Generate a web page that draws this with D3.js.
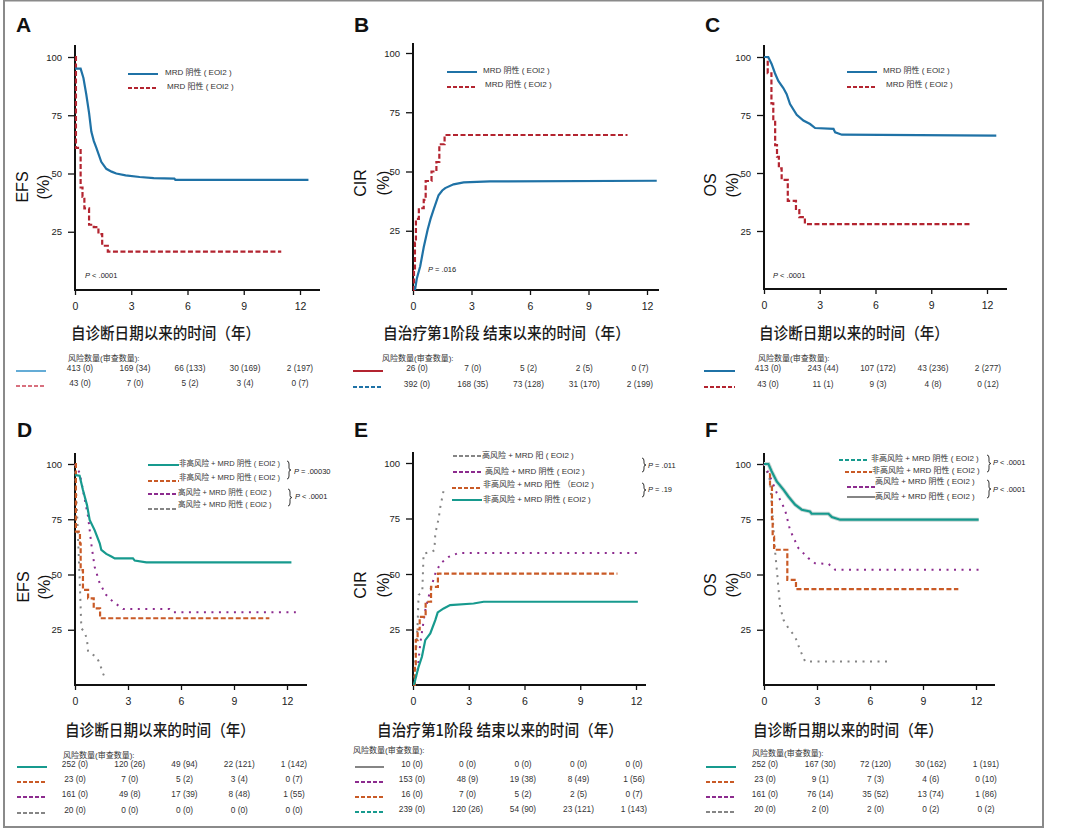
<!DOCTYPE html>
<html>
<head>
<meta charset="utf-8">
<script src="https://cdn.jsdelivr.net/npm/d3@7"></script>
<style>
  body { margin: 0; background: #fff; }
  svg { display: block; }
</style>
</head>
<body>
<script>
// ---- data ----
const xTicks = [0, 3, 6, 9, 12];
const yTicks = [25, 50, 75, 100];

// A: EFS by MRD
const aNeg = [[0,95],[0.3,95],[0.45,91],[0.6,84],[0.75,76],[0.87,68],[1.0,64],[1.14,61],[1.4,55],[1.67,52],[1.95,50.8],[2.2,50],[2.7,49.2],[3.45,48.5],[4.2,48],[5.3,47.8],[5.35,47.3],[12.45,47.3]];
const aPos = [[0,100],[0.05,61],[0.3,44],[0.4,40],[0.5,35],[0.75,28],[1.0,27],[1.25,24],[1.45,19],[1.75,16.5],[11.0,16.5]];
// B: CIR by MRD
const bNeg = [[0.1,0],[0.2,5],[0.37,10],[0.55,18],[0.75,25.4],[0.9,30],[1.06,34],[1.31,40],[1.5,42],[1.65,43],[2.08,44.6],[2.6,45.4],[3.95,45.8],[12.5,46.1]];
const bPos = [[0,0],[0.05,8],[0.1,20],[0.15,30],[0.3,34.5],[0.55,38],[0.65,46],[0.95,50],[1.2,54],[1.35,61.5],[1.62,65.4],[11.0,65.4]];
// C: OS by MRD
const cNeg = [[0,100],[0.23,100],[0.41,97],[0.59,93],[0.77,89.7],[1.04,86.6],[1.22,84],[1.4,79.7],[1.76,75.1],[2.12,72.6],[2.48,71.1],[2.75,69.4],[3.74,69],[3.83,67.5],[4.19,66.5],[12.5,66.1]];
const cPos = [[0,100],[0.15,100],[0.2,93],[0.4,80],[0.5,72],[0.6,62],[0.7,57],[0.8,52],[0.95,47],[1.28,38],[1.72,34],[1.9,31],[2.2,28],[11.07,28]];
// D: EFS by risk + MRD
const dTeal = [[0,95],[0.26,94.7],[0.45,88.2],[0.68,81.4],[0.83,74.7],[1.11,70.1],[1.4,64.1],[1.49,61.1],[1.77,59.3],[2.06,58.1],[2.25,57.3],[3.28,57.3],[3.38,56.3],[4.04,55.5],[12.25,55.5]];
const dOrange = [[0,100],[0.05,69.4],[0.28,64],[0.32,52],[0.45,43],[0.74,39.2],[1.06,34.7],[1.42,30.2],[11.0,30.2]];
const dPurple = [[0,100],[0.26,96],[0.45,88.2],[0.74,76.2],[0.92,64],[1.11,53.5],[1.4,46],[1.77,40.7],[2.15,37.7],[2.72,34.4],[5.36,34.4],[5.55,32.9],[12.5,32.9]];
const dGray = [[0,100],[0.11,79],[0.26,49],[0.36,25.6],[0.55,24],[0.68,20.4],[0.74,15],[1.21,12.8],[1.4,9.8],[1.58,5.3],[1.74,2.6]];
// E: CIR by risk + MRD
const eGray = [[0.05,0],[0.25,27.7],[0.3,40.5],[0.5,42],[0.57,59.2],[1.0,60],[1.15,60.7],[1.2,68.2],[1.38,75],[1.47,80.2],[1.65,87.7]];
const ePurple = [[0.05,0],[0.25,6.7],[0.39,18.7],[0.66,33.7],[0.93,42.7],[1.2,50.2],[1.47,54.7],[1.92,57.7],[2.45,59.5],[12.3,59.5]];
const eOrange = [[0,0],[0.1,8.2],[0.15,20.2],[0.25,25],[0.36,30.7],[0.68,37.5],[0.97,44.2],[1.34,50.2],[11.0,50.2]];
const eTeal = [[0.05,0],[0.3,8.2],[0.48,12.7],[0.66,20.2],[0.93,23.2],[1.2,29.2],[1.33,32.7],[1.65,34.5],[2.0,36],[3.26,36.7],[3.8,37.5],[12.1,37.5]];
// F: OS by risk + MRD
const fTeal = [[0,100],[0.25,100],[0.43,96.7],[0.72,92.1],[1.1,88.4],[1.38,85.3],[1.76,81.6],[2.14,79.3],[2.6,78.5],[2.7,77.5],[3.65,77.5],[3.84,76],[4.31,74.8],[12.15,74.8]];
const fOrange = [[0,100],[0.34,89.9],[0.45,75],[0.49,67.2],[0.57,61.2],[1.32,47.6],[1.81,43.4],[11.0,43.4]];
const fPurple = [[0,100],[0.34,94.4],[0.72,86.9],[1.19,79.3],[1.47,70.2],[1.95,61.9],[2.51,57.4],[2.89,55.1],[3.65,54.8],[4.03,52.1],[12.3,52.1]];
const fGray = [[0,100],[0.34,92.6],[0.62,61.2],[0.76,49.1],[0.91,35.5],[1.1,29.5],[1.38,25.7],[1.76,21.9],[2.04,15.9],[2.33,10.6],[7.15,10.6]];

// legend labels
const legendMRD = ["MRD 阴性 ( EOI2 )", "MRD 阳性 ( EOI2 )"];
const legendD = ["非高风险 + MRD 阴性 ( EOI2 )", "非高风险 + MRD 阳性 ( EOI2 )", "高风险 + MRD 阴性 ( EOI2 )", "高风险 + MRD 阳性 ( EOI2 )"];
const legendE = ["高风险 + MRD 阳 ( EOI2 )", "高风险 + MRD 阴性 ( EOI2 )", "非高风险 + MRD 阳性 （EOI2 )", "非高风险 + MRD 阴性 ( EOI2 )"];
const legendF = ["非高风险 + MRD 阴性 (  EOI2 )", "非高风险 + MRD 阳性 ( EOI2 )", "高风险 + MRD 阴性 ( EOI2 )", "高风险 + MRD 阳性  ( EOI2 )"];

const pA = "< .0001", pB = "= .016", pC = "< .0001";
const pD = ["= .00030", "< .0001"];
const pE = ["= .011", "= .19"];
const pF = ["< .0001", "< .0001"];

const titleDiag = "自诊断日期以来的时间（年）";
const titleCons = "自治疗第1阶段 结束以来的时间（年）";
const riskHeader = "风险数量(审查数量):";

const riskA = [["413 (0)","169 (34)","66 (133)","30 (169)","2 (197)"],["43 (0)","7 (0)","5 (2)","3 (4)","0 (7)"]];
const riskB = [["26 (0)","7 (0)","5 (2)","2 (5)","0 (7)"],["392 (0)","168 (35)","73 (128)","31 (170)","2 (199)"]];
const riskC = [["413 (0)","243 (44)","107 (172)","43 (236)","2 (277)"],["43 (0)","11 (1)","9 (3)","4 (8)","0 (12)"]];
const riskD = [["252 (0)","120 (26)","49 (94)","22 (121)","1 (142)"],["23 (0)","7 (0)","5 (2)","3 (4)","0 (7)"],["161 (0)","49 (8)","17 (39)","8 (48)","1 (55)"],["20 (0)","0 (0)","0 (0)","0 (0)","0 (0)"]];
const riskE = [["10 (0)","0 (0)","0 (0)","0 (0)","0 (0)"],["153 (0)","48 (9)","19 (38)","8 (49)","1 (56)"],["16 (0)","7 (0)","5 (2)","2 (5)","0 (7)"],["239 (0)","120 (26)","54 (90)","23 (121)","1 (143)"]];
const riskF = [["252 (0)","167 (30)","72 (120)","30 (162)","1 (191)"],["23 (0)","9 (1)","7 (3)","4 (6)","0 (10)"],["161 (0)","76 (14)","35 (52)","13 (74)","1 (86)"],["20 (0)","2 (0)","2 (0)","0 (2)","0 (2)"]];

// ---- styles ----
const sans = "'Liberation Sans', Arial, 'Noto Sans CJK SC', sans-serif";
const blue = "#1f72a6", red = "#b32430", teal = "#179a8e", orange = "#c95a26",
      purple = "#8c2b8e", gray = "#858585", ltBlue = "#64acd6", pink = "#d8707e";
const solid = null, dash = "5,2.5", dot = "2,5.5", rdash = "4,2";

const svg = d3.select("body").append("svg")
    .attr("width", 1080)
    .attr("height", 830);

// outer frame
svg.append("rect")
    .attr("x", 4).attr("y", 0.5)
    .attr("width", 1039).attr("height", 826.5)
    .style("fill", "none")
    .style("stroke", "#8a8a8a")
    .style("stroke-width", 2);

function pText(g, x, y, s, size) {
    const t = g.append("text").attr("x", x).attr("y", y + size * 0.35)
        .attr("font-family", sans).attr("font-size", size).attr("fill", "#222");
    t.append("tspan").attr("font-style", "italic").text("P");
    t.append("tspan").text(" " + s);
}

function brace(g, x, y1, y2) {
    const m = (y1 + y2) / 2;
    g.append("path")
        .attr("d", `M${x},${y1} q2,0 2,3 L${x + 2},${m - 2} q0,2 2,2 q-2,0 -2,2 L${x + 2},${y2 - 3} q0,3 -2,3`)
        .style("fill", "none").style("stroke", "#333").style("stroke-width", 1);
}

function drawPanel(p) {
    const g = svg.append("g");
    const x = d3.scaleLinear().domain([0, 12]).range([p.x0, p.x12]);
    const y = d3.scaleLinear().domain([0, 100]).range([p.y0, p.y100]);

    // panel letter
    g.append("text").attr("x", p.lx).attr("y", p.ly).text(p.letter)
        .attr("font-family", sans).attr("font-size", 21).attr("font-weight", "bold").attr("fill", "#111");

    // axes
    const ya = g.append("g").attr("transform", `translate(${p.x0},0)`)
        .call(d3.axisLeft(y).tickValues(yTicks).tickSize(7).tickPadding(6));
    const xa = g.append("g").attr("transform", `translate(0,${p.y0})`)
        .call(d3.axisBottom(x).tickValues(xTicks).tickSize(5).tickPadding(7.5));
    [ya, xa].forEach(function (a) {
        a.select(".domain").remove();
        a.selectAll("line").attr("stroke", "#111").attr("stroke-width", 1.3);
        a.selectAll("text").attr("font-family", sans).attr("fill", "#222");
    });
    ya.selectAll("text").attr("font-size", 9.5);
    xa.selectAll("text").attr("font-size", 10.5);

    g.append("line").attr("x1", p.x0).attr("x2", p.x0).attr("y1", p.yTop).attr("y2", p.y0 + 1)
        .style("stroke", "#111").style("stroke-width", 2);
    g.append("line").attr("x1", p.x0 - 1).attr("x2", p.xEnd).attr("y1", p.y0).attr("y2", p.y0)
        .style("stroke", "#111").style("stroke-width", 2);

    // y label
    g.append("text").attr("transform", `translate(${p.ylab[1]},${p.ylab[2]}) rotate(-90)`)
        .attr("text-anchor", "middle").attr("dominant-baseline", "central")
        .attr("font-family", sans).attr("font-size", 16).attr("fill", "#111").text(p.ylab[0]);
    g.append("text").attr("transform", `translate(${p.ylab[3]},${p.ylab[2]}) rotate(-90)`)
        .attr("text-anchor", "middle").attr("dominant-baseline", "central")
        .attr("font-family", sans).attr("font-size", 16).attr("fill", "#111").text("(%)");

    // x title
    g.append("text").attr("x", p.title[1]).attr("y", p.title[3] + 6)
        .attr("textLength", p.title[2] - p.title[1]).attr("lengthAdjust", "spacingAndGlyphs")
        .attr("font-family", "'Noto Sans CJK SC', sans-serif").attr("font-size", 16)
        .attr("font-weight", 500).attr("fill", "#1a1a1a")
        .text(p.title[0]);

    // curves
    p.series.forEach(function (s) {
        const line = d3.line()
            .x(d => x(d[0]))
            .y(d => y(d[1]))
            .curve(s.step ? d3.curveStepAfter : d3.curveLinear);
        if (s.halo) {
            g.append("path").attr("d", line(s.data)).style("fill", "none")
                .style("stroke", "#c9d6d4").style("stroke-width", 4);
        }
        g.append("path").attr("d", line(s.data))
            .style("fill", "none")
            .style("stroke", s.color)
            .style("stroke-width", s.w || 2)
            .style("stroke-dasharray", s.dash);
    });

    // legend
    const L = p.legend;
    L.labels.forEach(function (lab, i) {
        g.append("line")
            .attr("x1", L.x1[i]).attr("x2", L.x2[i]).attr("y1", L.ys[i]).attr("y2", L.ys[i])
            .style("stroke", L.styles[i][0]).style("stroke-width", 2)
            .style("stroke-dasharray", L.styles[i][1]);
        g.append("text").attr("x", L.tx[i]).attr("y", L.ty[i] + L.size * 0.36)
            .attr("font-family", sans).attr("font-size", L.size).attr("fill", "#333").text(lab);
    });

    // p values
    p.pvals.forEach(function (pv) {
        if (pv.b) brace(g, pv.b[0], pv.b[1], pv.b[2]);
        pText(g, pv.x, pv.y, pv.t, 7.5);
    });

    // risk table
    const R = p.risk;
    const cx = d3.scaleLinear().domain([0, 12]).range([R.c0, R.c12]);
    g.append("text").attr("x", R.hx).attr("y", R.hy + 3)
        .attr("font-family", sans).attr("font-size", 8).attr("fill", "#333").text(riskHeader);
    R.rows.forEach(function (row, i) {
        g.append("line")
            .attr("x1", R.lx[0]).attr("x2", R.lx[1]).attr("y1", R.ry[i] + 3).attr("y2", R.ry[i] + 3)
            .style("stroke", R.styles[i][0]).style("stroke-width", 2)
            .style("stroke-dasharray", R.styles[i][1]);
        g.selectAll(null).data(row).enter().append("text")
            .attr("x", (d, j) => cx(xTicks[j]))
            .attr("y", R.ry[i] + 3)
            .attr("text-anchor", "middle")
            .attr("font-family", sans).attr("font-size", 8.3).attr("fill", "#333")
            .text(d => d);
    });
}

const panels = [
    {
        letter: "A", lx: 16, ly: 32,
        x0: 75, x12: 300, y0: 290, y100: 57, yTop: 45, xEnd: 320,
        ylab: ["EFS", 22, 187, 43],
        title: [titleDiag, 71, 260, 333],
        series: [
            { data: aPos, color: red, dash: dash, step: true, w: 2.2 },
            { data: aNeg, color: blue, dash: solid, w: 2.2 }
        ],
        legend: { labels: legendMRD, x1: [128, 128], x2: [158, 158], ys: [74, 88], tx: [165, 167], ty: [72, 86], size: 8,
                  styles: [[blue, solid], [red, rdash]] },
        pvals: [{ x: 85, y: 275, t: pA }],
        risk: { rows: riskA, hx: 68, hy: 358, c0: 80, c12: 300, ry: [368, 383], lx: [16, 46],
                styles: [[ltBlue, solid], [pink, rdash]] }
    },
    {
        letter: "B", lx: 354, ly: 32,
        x0: 413, x12: 647, y0: 290, y100: 53, yTop: 43, xEnd: 659,
        ylab: ["CIR", 360, 183, 383],
        title: [titleCons, 383, 630, 333],
        series: [
            { data: bPos, color: red, dash: dash, step: true, w: 2.2 },
            { data: bNeg, color: blue, dash: solid, w: 2.2 }
        ],
        legend: { labels: legendMRD, x1: [447, 447], x2: [477, 477], ys: [72, 87], tx: [483, 485], ty: [70, 84], size: 8,
                  styles: [[blue, solid], [red, rdash]] },
        pvals: [{ x: 428, y: 269, t: pB }],
        risk: { rows: riskB, hx: 382, hy: 358, c0: 417, c12: 640, ry: [368, 384], lx: [353, 383],
                styles: [[red, solid], [blue, rdash]] }
    },
    {
        letter: "C", lx: 705, ly: 32,
        x0: 764, x12: 987, y0: 289, y100: 57, yTop: 45, xEnd: 1007,
        ylab: ["OS", 710, 185, 732],
        title: [titleDiag, 759, 949, 333],
        series: [
            { data: cPos, color: red, dash: dash, step: true, w: 2.2 },
            { data: cNeg, color: blue, dash: solid, w: 2.2 }
        ],
        legend: { labels: legendMRD, x1: [847, 847], x2: [877, 877], ys: [72, 87], tx: [883, 886], ty: [70, 84], size: 8,
                  styles: [[blue, solid], [red, rdash]] },
        pvals: [{ x: 773, y: 275, t: pC }],
        risk: { rows: riskC, hx: 758, hy: 358, c0: 768, c12: 988, ry: [368, 384], lx: [704, 735],
                styles: [[blue, solid], [red, rdash]] }
    },
    {
        letter: "D", lx: 17, ly: 437,
        x0: 75, x12: 287, y0: 685, y100: 464, yTop: 453, xEnd: 307,
        ylab: ["EFS", 23, 587, 44],
        title: [titleDiag, 65, 255, 730],
        series: [
            { data: dGray, color: gray, dash: dot, w: 2 },
            { data: dPurple, color: purple, dash: dot, w: 2 },
            { data: dOrange, color: orange, dash: dash, step: true, w: 2.2 },
            { data: dTeal, color: teal, dash: solid, w: 2.2 }
        ],
        legend: { labels: legendD, x1: [148, 148, 148, 148], x2: [179, 179, 178, 178], ys: [465, 481, 494, 509],
                  tx: [179, 179, 178, 178], ty: [463, 477, 492, 504], size: 7.5,
                  styles: [[teal, solid], [orange, rdash], [purple, rdash], [gray, rdash]] },
        pvals: [{ x: 294, y: 471, t: pD[0], b: [287, 461, 479] }, { x: 295, y: 496, t: pD[1], b: [288, 489, 506] }],
        risk: { rows: riskD, hx: 63, hy: 755, c0: 75, c12: 294, ry: [764, 779, 794, 810], lx: [17, 47],
                styles: [[teal, solid], [orange, rdash], [purple, rdash], [gray, rdash]] }
    },
    {
        letter: "E", lx: 354, ly: 437,
        x0: 413, x12: 636, y0: 685, y100: 463, yTop: 452, xEnd: 646,
        ylab: ["CIR", 360, 585, 383],
        title: [titleCons, 377, 623, 730],
        series: [
            { data: eGray, color: gray, dash: dot, w: 2 },
            { data: ePurple, color: purple, dash: dot, w: 2 },
            { data: eOrange, color: orange, dash: dash, step: true, w: 2.2 },
            { data: eTeal, color: teal, dash: solid, w: 2.2 }
        ],
        legend: { labels: legendE, x1: [453, 453, 452, 452], x2: [482, 482, 482, 482], ys: [456, 472, 488, 500],
                  tx: [482, 485, 483, 483], ty: [455, 471, 484, 499], size: 8,
                  styles: [[gray, rdash], [purple, rdash], [orange, rdash], [teal, solid]] },
        pvals: [{ x: 648, y: 465, t: pE[0], b: [642, 458, 472] }, { x: 648, y: 489, t: pE[1], b: [642, 483, 497] }],
        risk: { rows: riskE, hx: 353, hy: 750, c0: 412, c12: 634, ry: [764, 779, 794, 809], lx: [355, 384],
                styles: [[gray, solid], [purple, rdash], [orange, rdash], [teal, rdash]] }
    },
    {
        letter: "F", lx: 705, ly: 437,
        x0: 764, x12: 976, y0: 685, y100: 464, yTop: 453, xEnd: 995,
        ylab: ["OS", 710, 585, 732],
        title: [titleDiag, 753, 943, 730],
        series: [
            { data: fGray, color: gray, dash: dot, w: 2 },
            { data: fPurple, color: purple, dash: dot, w: 2 },
            { data: fOrange, color: orange, dash: dash, step: true, w: 2.2 },
            { data: fTeal, color: teal, dash: solid, halo: true, w: 2.2 }
        ],
        legend: { labels: legendF, x1: [839, 845, 847, 847], x2: [868, 872, 875, 875], ys: [460, 472, 487, 497],
                  tx: [871, 872, 875, 875], ty: [458, 470, 481, 496], size: 8,
                  styles: [[teal, rdash], [orange, rdash], [purple, rdash], [gray, solid]] },
        pvals: [{ x: 993, y: 462, t: pF[0], b: [987, 455, 472] }, { x: 993, y: 489, t: pF[1], b: [987, 480, 498] }],
        risk: { rows: riskF, hx: 752, hy: 753, c0: 765, c12: 986, ry: [764, 779, 794, 809], lx: [706, 736],
                styles: [[teal, solid], [orange, rdash], [purple, rdash], [gray, rdash]] }
    }
];

panels.forEach(drawPanel);
</script>
</body>
</html>
